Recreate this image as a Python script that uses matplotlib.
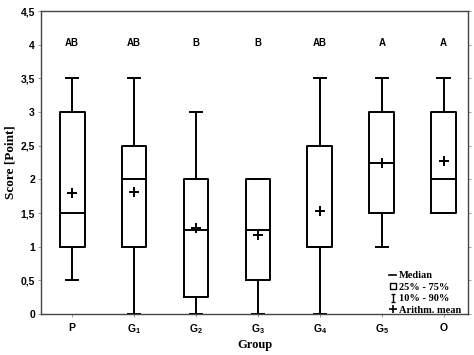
import matplotlib

matplotlib.use("Agg")
import matplotlib.pyplot as plt
from matplotlib.lines import Line2D
from matplotlib.path import Path
from matplotlib.ticker import FuncFormatter

plt.rcParams["mathtext.fontset"] = "custom"
plt.rcParams["mathtext.bf"] = "Liberation Sans:bold"
plt.rcParams["mathtext.rm"] = "Liberation Sans:bold"
plt.rcParams["mathtext.default"] = "bf"

groups = ["P", "G$_1$", "G$_2$", "G$_3$", "G$_4$", "G$_5$", "O"]
letters = ["AB", "AB", "B", "B", "AB", "A", "A"]
p10 = [0.5, 0.0, 0.0, 0.0, 0.0, 1.0, 1.5]
q25 = [1.0, 1.0, 0.25, 0.5, 1.0, 1.5, 1.5]
median = [1.5, 2.0, 1.25, 1.25, 1.0, 2.25, 2.0]
q75 = [3.0, 2.5, 2.0, 2.0, 2.5, 3.0, 3.0]
p90 = [3.5, 3.5, 3.0, 2.0, 3.5, 3.5, 3.5]
mean = [1.8, 1.82, 1.28, 1.18, 1.53, 2.25, 2.28]

SANS = "Liberation Sans"
SERIF = "Liberation Serif"

fig = plt.figure(figsize=(4.74, 3.55), dpi=100)
ax = fig.add_axes([0.087, 0.115, 0.9, 0.854])

stats = [dict(whislo=lo, q1=a, med=m, q3=b, whishi=hi, mean=mn, fliers=[])
         for lo, a, m, b, hi, mn in zip(p10, q25, median, q75, p90, mean)]
pos = list(range(len(groups)))
ax.bxp(stats, positions=pos, widths=0.4, showmeans=True, showfliers=False,
       boxprops=dict(color="black", linewidth=1.4),
       medianprops=dict(color="black", linewidth=1.4),
       whiskerprops=dict(color="black", linewidth=1.4),
       capprops=dict(color="black", linewidth=1.4),
       meanprops=dict(marker="+", markeredgecolor="black", markersize=7,
                      markeredgewidth=1.4))

for x, lab in zip(pos, letters):
    ax.text(x, 4.02, lab, ha="center", va="center", fontsize=7,
            fontweight="bold", family=SANS)

ax.set_xlim(-0.5, 6.39)
ax.set_ylim(0, 4.5)
ax.set_yticks([0, 0.5, 1, 1.5, 2, 2.5, 3, 3.5, 4, 4.5])
ax.yaxis.set_major_formatter(FuncFormatter(lambda v, _: f"{v:g}".replace(".", ",")))
ax.set_xticks(pos)
ax.set_xticklabels(groups)
for t in ax.get_xticklabels() + ax.get_yticklabels():
    t.set_fontfamily(SANS)
    t.set_fontweight("bold")
    t.set_fontsize(7.5)
ax.tick_params(direction="out", length=2, width=0.5, color="#777777", right=True)
ax.tick_params(axis="y", pad=2.5)
ax.tick_params(axis="x", pad=4)
for s in ax.spines.values():
    s.set_linewidth(1.0)
    s.set_color("#444444")

ax.set_ylabel("Score [Point]", family=SERIF, fontweight="bold", fontsize=9.5, labelpad=3)
ax.set_xlabel("Group", family=SERIF, fontweight="bold", fontsize=9, labelpad=2)

# I-shaped marker for the 10%-90% range
ibeam = Path([(-0.5, 1), (0.5, 1), (0, 1), (0, -1), (-0.5, -1), (0.5, -1)],
             [Path.MOVETO, Path.LINETO, Path.MOVETO, Path.LINETO, Path.MOVETO, Path.LINETO])
handles = [
    Line2D([], [], color="black", lw=1.2),
    Line2D([], [], ls="none", marker="s", mfc="white", mec="black", ms=5, mew=1.0),
    Line2D([], [], ls="none", marker=ibeam, mec="black", ms=6, mew=1.0),
    Line2D([], [], ls="none", marker="+", mec="black", ms=6, mew=1.2),
]
labels = ["Median", "25% - 75%", "10% - 90%", "Arithm. mean"]
ax.legend(handles, labels, loc="lower right", bbox_to_anchor=(0.995, -0.015),
          frameon=False, handlelength=0.7, handletextpad=0.3, labelspacing=0.2,
          borderaxespad=0.0, prop=dict(family=SERIF, weight="bold", size=7.5))

fig.savefig("out.png", dpi=100)
